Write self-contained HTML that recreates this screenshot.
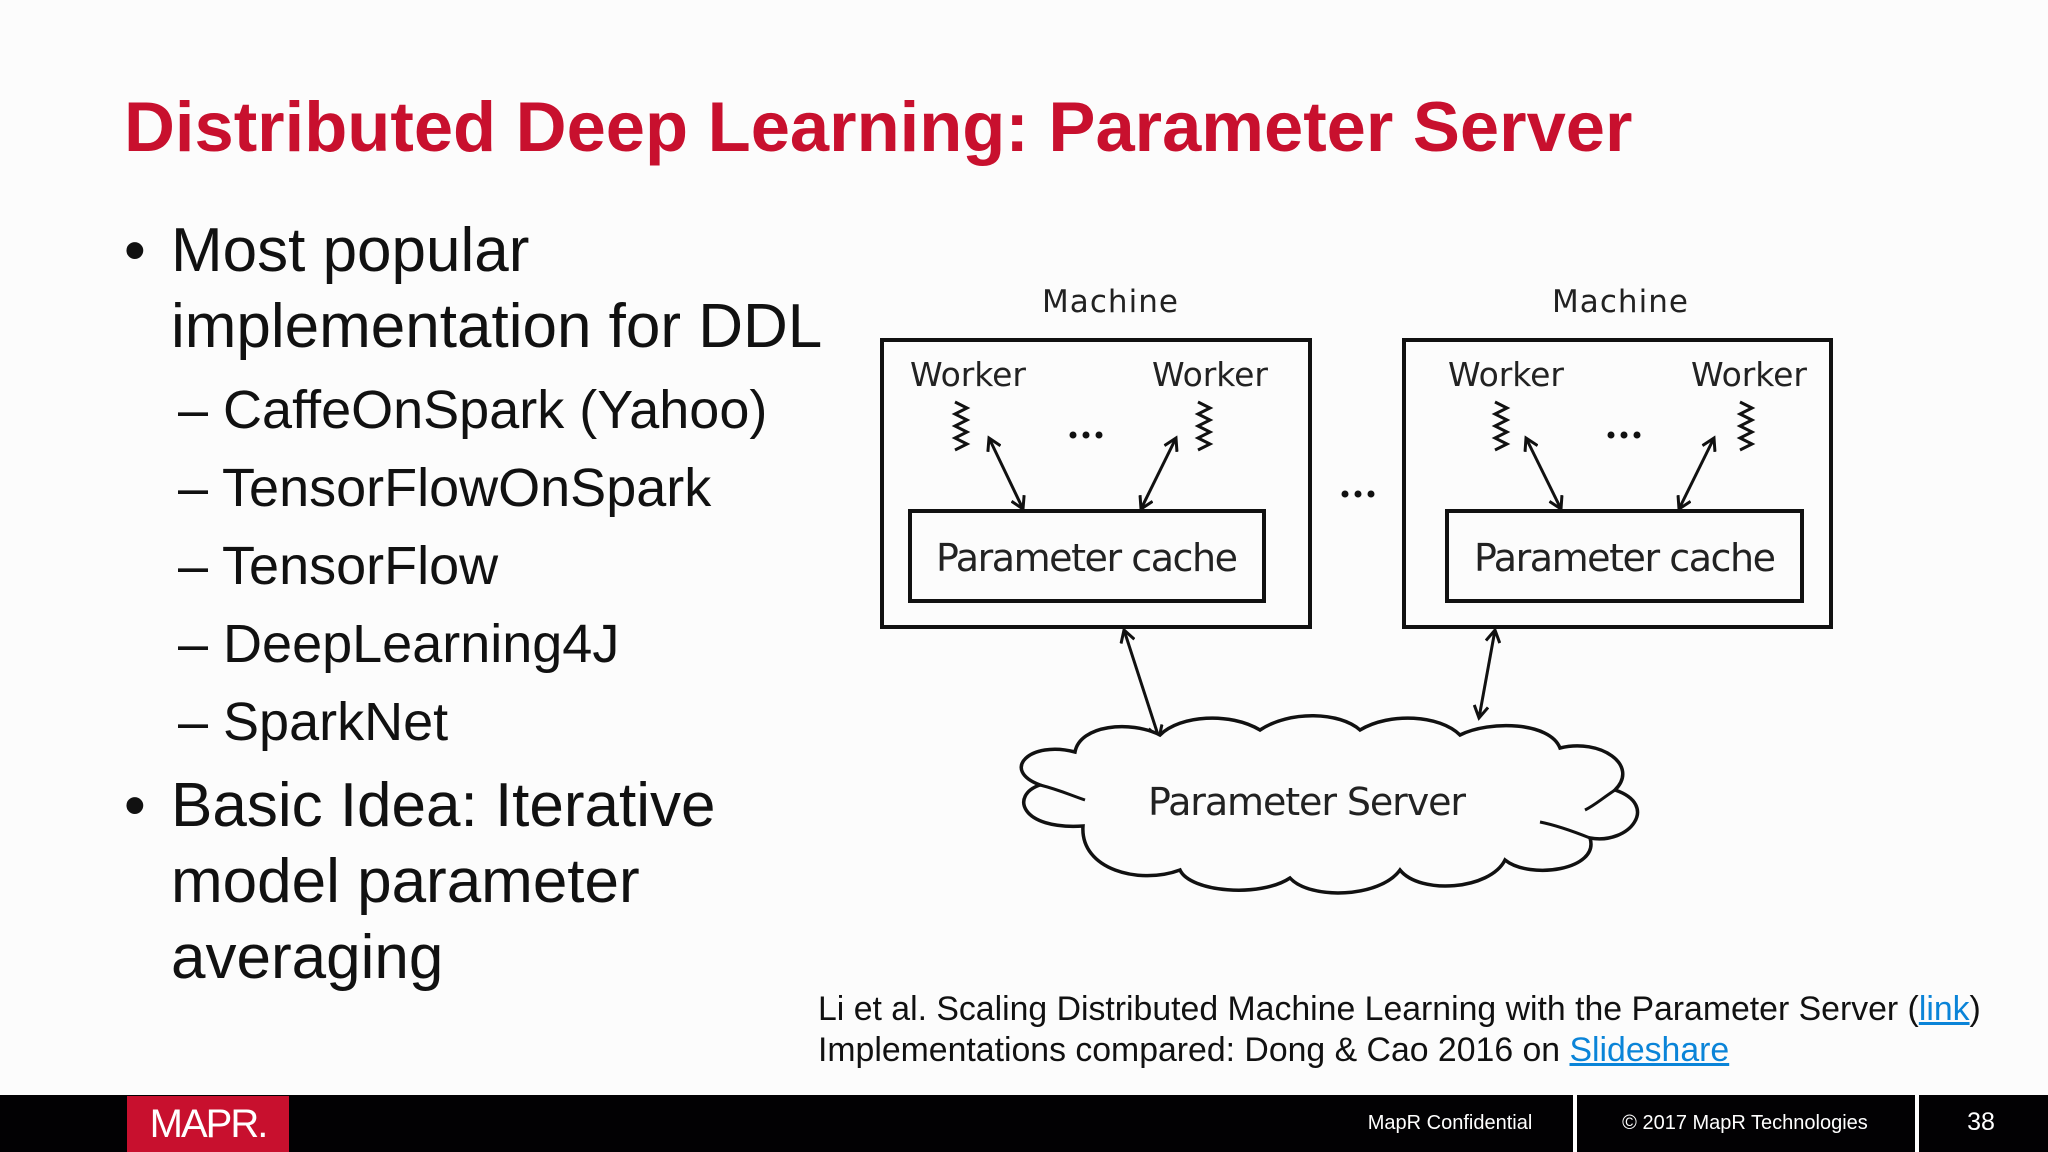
<!DOCTYPE html>
<html><head><meta charset="utf-8"><style>
body{margin:0;width:2048px;height:1152px;background:#fcfcfc;position:relative;overflow:hidden;font-family:"Liberation Sans",Arial,sans-serif;}
.t{position:absolute;white-space:nowrap;}
</style></head><body>
<div class="t" style="left:124px;top:86px;font-size:70.5px;font-weight:bold;color:#c8102e;">Distributed Deep Learning: Parameter Server</div>
<div class="t" style="left:124px;top:213px;font-size:62px;line-height:76px;color:#111;">•</div>
<div class="t" style="left:171px;top:213px;font-size:62px;line-height:76px;color:#111;">Most popular<br>implementation for DDL</div>
<div class="t" style="left:178px;top:371px;font-size:54px;line-height:78px;color:#111;">– CaffeOnSpark (Yahoo)<br>– TensorFlowOnSpark<br>– TensorFlow<br>– DeepLearning4J<br>– SparkNet</div>
<div class="t" style="left:124px;top:768px;font-size:62px;line-height:76px;color:#111;">•</div>
<div class="t" style="left:171px;top:768px;font-size:62px;line-height:76px;color:#111;">Basic Idea: Iterative<br>model parameter<br>averaging</div>
<div class="t" style="left:818px;top:989px;font-size:33.8px;line-height:41px;color:#111;">Li et al. Scaling Distributed Machine Learning with the Parameter Server (<span style="color:#0a84d8;text-decoration:underline">link</span>)<br>Implementations compared: Dong &amp; Cao 2016 on <span style="color:#0a84d8;text-decoration:underline">Slideshare</span></div>

<svg width="2048" height="1152" style="position:absolute;left:0;top:0" xmlns="http://www.w3.org/2000/svg">
<defs><marker id="a" markerWidth="16" markerHeight="16" refX="13" refY="8" orient="auto-start-reverse" markerUnits="userSpaceOnUse"><path d="M1,1 L13,8 L1,15" fill="none" stroke="#111" stroke-width="3"/></marker></defs>
<g fill="none" stroke="#111" stroke-width="4">
<rect x="882" y="340" width="428" height="287"/>
<rect x="1404" y="340" width="427" height="287"/>
<rect x="910" y="511" width="354" height="90"/>
<rect x="1447" y="511" width="355" height="90"/>
</g>
<g stroke="#111" stroke-width="3" fill="none" marker-start="url(#a)" marker-end="url(#a)">
<line x1="989" y1="438" x2="1023" y2="509"/>
<line x1="1176" y1="438" x2="1141" y2="509"/>
<line x1="1526" y1="438" x2="1561" y2="509"/>
<line x1="1714" y1="438" x2="1679" y2="509"/>
<line x1="1124" y1="630" x2="1159" y2="738"/>
<line x1="1495" y1="630" x2="1479" y2="718"/>
</g>
<g stroke="#111" stroke-width="3" fill="none">
<polyline points="955,402 967,408 955,414 967,420 955,426 967,432 955,438 967,444 955,450"/>
<polyline points="1198,402 1210,408 1198,414 1210,420 1198,426 1210,432 1198,438 1210,444 1198,450"/>
<polyline points="1495,402 1507,408 1495,414 1507,420 1495,426 1507,432 1495,438 1507,444 1495,450"/>
<polyline points="1740,402 1752,408 1740,414 1752,420 1740,426 1752,432 1740,438 1752,444 1740,450"/>
</g>
<path d="M1083,826 C1020,830 1010,795 1040,785 C1000,770 1030,740 1075,752 C1080,725 1130,720 1160,735 C1180,715 1230,712 1260,730 C1290,710 1340,712 1360,730 C1390,712 1440,715 1460,735 C1490,720 1550,722 1560,748 C1600,738 1640,765 1615,790 C1660,805 1630,845 1590,838 C1600,870 1530,880 1505,860 C1490,890 1420,895 1400,870 C1380,898 1310,900 1290,878 C1260,898 1190,892 1180,870 C1140,885 1080,870 1083,826 Z" fill="#fcfcfc" stroke="#111" stroke-width="3.5"/>
<path d="M1040,785 C1060,790 1070,795 1085,800 M1590,838 C1570,830 1555,825 1540,822 M1615,790 C1600,800 1595,805 1585,810" stroke="#111" stroke-width="3" fill="none"/>
<g font-family="'DejaVu Sans','Liberation Sans',sans-serif" fill="#222" text-anchor="middle">
<text x="1110" y="312" font-size="31" textLength="136">Machine</text>
<text x="1620" y="312" font-size="31" textLength="136">Machine</text>
<text x="968" y="386" font-size="33" textLength="116">Worker</text>
<text x="1210" y="386" font-size="33" textLength="116">Worker</text>
<text x="1506" y="386" font-size="33" textLength="116">Worker</text>
<text x="1749" y="386" font-size="33" textLength="116">Worker</text>
<text x="1087" y="571" font-size="38" textLength="302">Parameter cache</text>
<text x="1625" y="571" font-size="38" textLength="302">Parameter cache</text>
<text x="1307" y="815" font-size="38" textLength="318">Parameter Server</text>
<g fill="#111" stroke="none">
<circle cx="1073" cy="435" r="3.5"/><circle cx="1086" cy="435" r="3.5"/><circle cx="1099" cy="435" r="3.5"/>
<circle cx="1345" cy="494" r="3.5"/><circle cx="1358" cy="494" r="3.5"/><circle cx="1371" cy="494" r="3.5"/>
<circle cx="1611" cy="435" r="3.5"/><circle cx="1624" cy="435" r="3.5"/><circle cx="1637" cy="435" r="3.5"/>
</g>
</g>
</svg>

<div style="position:absolute;left:0;top:1095px;width:2048px;height:57px;background:#020103;"></div>
<div style="position:absolute;left:127px;top:1096px;width:162px;height:56px;background:#c8102e;color:#fff;font-size:40px;line-height:56px;text-align:center;letter-spacing:-2px;">MAPR.</div>
<div style="position:absolute;left:1573px;top:1095px;width:4px;height:57px;background:#fff;"></div>
<div style="position:absolute;left:1915px;top:1095px;width:4px;height:57px;background:#fff;"></div>
<div class="t" style="left:1360px;top:1112px;width:180px;text-align:center;font-size:20px;color:#fff;">MapR Confidential</div>
<div class="t" style="left:1600px;top:1112px;width:290px;text-align:center;font-size:20px;color:#fff;">© 2017 MapR Technologies</div>
<div class="t" style="left:1950px;top:1108px;width:62px;text-align:center;font-size:25px;color:#fff;">38</div>
</body></html>
